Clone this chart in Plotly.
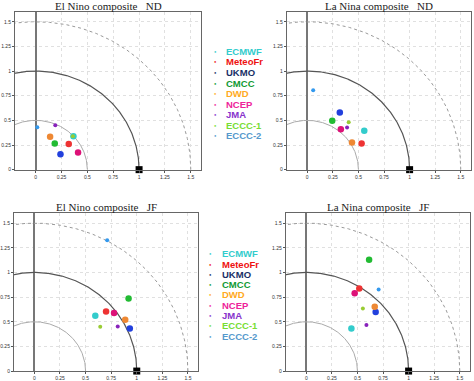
import numpy as np
import plotly.graph_objects as go

W, H = 474, 381

models = ["ECMWF", "MeteoFr", "UKMO", "CMCC", "DWD", "NCEP", "JMA", "ECCC-1", "ECCC-2"]
marker_colors = ["#33cccc", "#ee3333", "#2240dd", "#22bb33", "#ee8833", "#dd1177", "#8822bb", "#99cc33", "#3399ee"]
legend_colors = ["#33cccc", "#ee1111", "#1a2f66", "#119933", "#ffaa22", "#ee2299", "#8833cc", "#77dd33", "#5599cc"]
marker_sizes = [6.5, 6.5, 6.5, 6.5, 6.5, 6.5, 4, 4, 4]

# El Nino composite ND
en_nd_x = [0.365, 0.32, 0.24, 0.185, 0.14, 0.41, 0.19, 0.36, 0.016]
en_nd_y = [0.34, 0.26, 0.157, 0.266, 0.334, 0.175, 0.45, 0.34, 0.43]
# La Nina composite ND
ln_nd_x = [0.557, 0.531, 0.318, 0.244, 0.437, 0.328, 0.389, 0.405, 0.058]
ln_nd_y = [0.394, 0.266, 0.579, 0.495, 0.276, 0.41, 0.428, 0.48, 0.805]
# El Nino composite JF
en_jf_x = [0.595, 0.70, 0.932, 0.92, 0.887, 0.778, 0.814, 0.643, 0.711]
en_jf_y = [0.56, 0.605, 0.432, 0.736, 0.52, 0.588, 0.453, 0.449, 1.328]
# La Nina composite JF
ln_jf_x = [0.441, 0.518, 0.678, 0.614, 0.669, 0.473, 0.588, 0.553, 0.707]
ln_jf_y = [0.432, 0.838, 0.598, 1.128, 0.652, 0.79, 0.466, 0.635, 0.828]

titles = ["El Nino composite\u00a0\u00a0\u00a0ND", "La Nina composite\u00a0\u00a0\u00a0ND",
          "El Nino composite\u00a0\u00a0\u00a0JF", "La Nina composite\u00a0\u00a0\u00a0JF"]
tick_vals = [0, 0.25, 0.5, 0.75, 1, 1.25, 1.5]
tick_text = ["0", "0.25", "0.5", "0.75", "1", "1.25", "1.5"]
ref_x, ref_y = [1.0], [0.0]
arc_radii = [0.5, 1.0, 1.5]

panels = [
    (en_nd_x, en_nd_y, (13, 200), (12, 171), 6),
    (ln_nd_x, ln_nd_y, (286, 471), (12, 171), 6),
    (en_jf_x, en_jf_y, (12, 197), (215, 374), 209),
    (ln_jf_x, ln_jf_y, (285, 470), (215, 374), 209),
]

fig = go.Figure()
theta = np.linspace(0, np.pi, 400)
arc_styles = [dict(color="#aaaaaa", width=1, dash="solid"),
              dict(color="#555555", width=1.2, dash="solid"),
              dict(color="#999999", width=1, dash="dot")]

annotations = []
for i, (xs, ys, (xl, xr), (yt, yb), ty) in enumerate(panels):
    n = i + 1
    xa = "x" if n == 1 else f"x{n}"
    ya = "y" if n == 1 else f"y{n}"
    axis_common = dict(
        showgrid=True, gridcolor="#e0e0e0", griddash="dot", gridwidth=1,
        tickvals=tick_vals, ticktext=tick_text,
        ticks="outside", ticklen=2, tickcolor="#555555",
        tickfont=dict(size=5, color="#333333", family="Liberation Sans"),
        showline=True, mirror=True, linecolor="#666666", linewidth=1,
        fixedrange=True,
    )
    fig.update_layout(**{
        ("xaxis" if n == 1 else f"xaxis{n}"): dict(
            axis_common, domain=[xl / W, xr / W], range=[-0.2, 1.6],
            anchor=ya, zeroline=True, zerolinecolor="#777777", zerolinewidth=1.6),
        ("yaxis" if n == 1 else f"yaxis{n}"): dict(
            axis_common, domain=[1 - yb / H, 1 - yt / H], range=[0, 1.6],
            anchor=xa, zeroline=False),
    })
    for r, st in zip(arc_radii, arc_styles):
        fig.add_trace(go.Scatter(x=r * np.cos(theta), y=r * np.sin(theta), mode="lines",
                                 line=st, xaxis=xa, yaxis=ya, showlegend=False, hoverinfo="skip"))
    for k in range(len(models)):
        fig.add_trace(go.Scatter(x=[xs[k]], y=[ys[k]], mode="markers", name=models[k],
                                 marker=dict(color=marker_colors[k], size=marker_sizes[k]),
                                 xaxis=xa, yaxis=ya, showlegend=False))
    fig.add_trace(go.Scatter(x=ref_x, y=ref_y, mode="markers",
                             marker=dict(symbol="square", color="black", size=7),
                             cliponaxis=False, xaxis=xa, yaxis=ya, showlegend=False))
    annotations.append(dict(text=titles[i], x=(xl + xr) / 2 / W, y=1 - ty / H,
                            xref="paper", yref="paper", showarrow=False,
                            xanchor="center", yanchor="middle", borderpad=0,
                            font=dict(family="Liberation Serif", size=11, color="#222222")))

# legends
for (dot_x, text_x, y0, dy) in [(214, 223, 51.7, 10.66), (209, 219, 255.7, 10.4)]:
    for k, m in enumerate(models):
        yy = 1 - (y0 + k * dy) / H
        annotations.append(dict(text="●", x=dot_x / W, y=yy, xref="paper", yref="paper",
                                showarrow=False, xanchor="center", yanchor="middle",
                                font=dict(size=4, color=legend_colors[k])))
        annotations.append(dict(text=f"<b>{m}</b>", x=text_x / W, y=yy, xref="paper", yref="paper",
                                showarrow=False, xanchor="left", yanchor="middle",
                                font=dict(family="Liberation Sans", size=9.5, color=legend_colors[k])))

fig.update_layout(width=W, height=H, margin=dict(l=0, r=0, t=0, b=0),
                  paper_bgcolor="white", plot_bgcolor="white",
                  annotations=annotations, showlegend=False)

fig.write_html("out.html", config={"displayModeBar": False},
               post_script="document.body.style.margin='0';document.body.style.overflow='hidden';")
